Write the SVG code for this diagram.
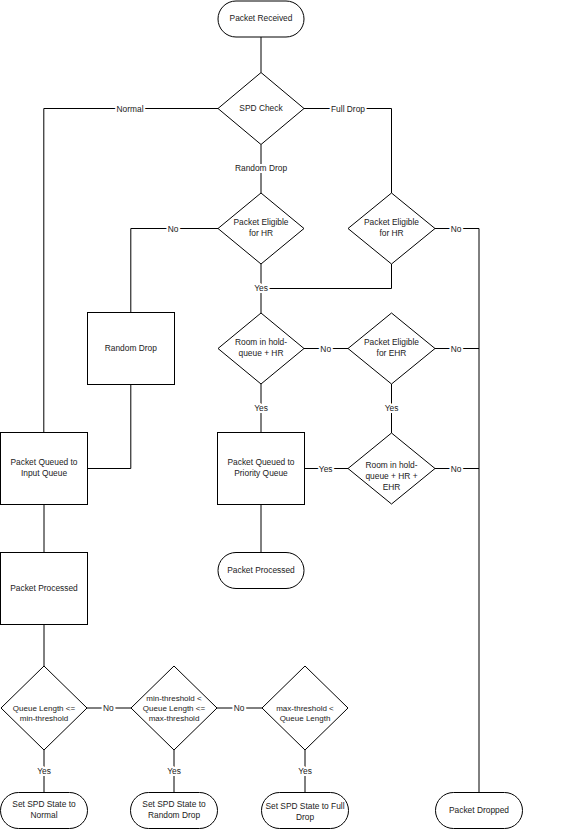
<svg xmlns="http://www.w3.org/2000/svg" width="577" height="829" viewBox="0 0 577 829">
<style>
.s{fill:#fff;stroke:#000;stroke-width:1}
.c{fill:none;stroke:#000;stroke-width:1}
text{font-family:"Liberation Sans",Arial,sans-serif;font-size:8.4px;fill:#222;text-anchor:middle}
.l{stroke:#fff;stroke-width:4;paint-order:stroke;stroke-linejoin:round}
.sm{font-size:8px}
</style>
<rect width="577" height="829" fill="#fff"/>
<g id="connectors">
<path class="c" d="M261,37V72.5"/>
<path class="c" d="M218,108.5H43.8V432.5"/>
<path class="c" d="M304,108.5H391.5V193"/>
<path class="c" d="M261,144.5V193"/>
<path class="c" d="M218,228.5H130.8V312.5"/>
<path class="c" d="M435,228.5H479V792.5"/>
<path class="c" d="M391.5,264V288.5H261"/>
<path class="c" d="M261,264V313"/>
<path class="c" d="M304,348.5H348"/>
<path class="c" d="M435,348.5H479"/>
<path class="c" d="M261,384V432.5"/>
<path class="c" d="M391.5,384V433"/>
<path class="c" d="M130.8,384.5V468.5H87.5"/>
<path class="c" d="M348,468.5H304.5"/>
<path class="c" d="M435,468.5H479"/>
<path class="c" d="M261,504.5V552.5"/>
<path class="c" d="M44,504.5V552.5"/>
<path class="c" d="M44,624.5V666"/>
<path class="c" d="M87,708H131"/>
<path class="c" d="M217,708H262"/>
<path class="c" d="M44,750V792.5"/>
<path class="c" d="M174,750V792.5"/>
<path class="c" d="M305,750V792.5"/>
<text class="l" x="130" y="111.5">Normal</text>
<text class="l" x="348" y="111.5">Full Drop</text>
<text class="l" x="261" y="170.7">Random Drop</text>
<text class="l" x="173" y="231.5">No</text>
<text class="l" x="456" y="231.5">No</text>
<text class="l" x="261" y="291.3">Yes</text>
<text class="l" x="325.7" y="351.5">No</text>
<text class="l" x="456" y="351.5">No</text>
<text class="l" x="261" y="410.7">Yes</text>
<text class="l" x="391.5" y="410.7">Yes</text>
<text class="l" x="325.7" y="471.5">Yes</text>
<text class="l" x="456" y="471.5">No</text>
<text class="l" x="108.3" y="711">No</text>
<text class="l" x="239" y="711">No</text>
<text class="l" x="44" y="774">Yes</text>
<text class="l" x="174" y="774">Yes</text>
<text class="l" x="305" y="774">Yes</text>
</g>
<g id="packet-received"><rect class="s" x="218" y="1" width="86" height="36" rx="18"/><text x="261" y="21">Packet Received</text></g>
<g id="spd-check"><polygon class="s" points="261,72.5 304,108.5 261,144.5 218,108.5"/><text x="261" y="111.3">SPD Check</text></g>
<g id="eligible-hr-1"><polygon class="s" points="261,193 304,228.5 261,264 218,228.5"/><text x="261" y="225.3">Packet Eligible</text><text x="261" y="236.3">for HR</text></g>
<g id="eligible-hr-2"><polygon class="s" points="391.5,193 435,228.5 391.5,264 348,228.5"/><text x="391.5" y="225.3">Packet Eligible</text><text x="391.5" y="236.3">for HR</text></g>
<g id="random-drop"><rect class="s" x="87.5" y="312.5" width="87" height="72"/><text x="130.8" y="351">Random Drop</text></g>
<g id="room-hr"><polygon class="s" points="261,313 304,348.5 261,384 218,348.5"/><text x="261" y="345.3">Room in hold-</text><text x="261" y="356.3">queue + HR</text></g>
<g id="eligible-ehr"><polygon class="s" points="391.5,313 435,348.5 391.5,384 348,348.5"/><text x="391.5" y="345.3">Packet Eligible</text><text x="391.5" y="356.3">for EHR</text></g>
<g id="input-queue"><rect class="s" x="0.5" y="432.5" width="87" height="72"/><text x="44" y="465.3">Packet Queued to</text><text x="44" y="476.3">Input Queue</text></g>
<g id="priority-queue"><rect class="s" x="217.5" y="432.5" width="87" height="72"/><text x="261" y="465.3">Packet Queued to</text><text x="261" y="476.3">Priority Queue</text></g>
<g id="room-hr-ehr"><polygon class="s" points="391.5,433 435,468.5 391.5,504 348,468.5"/><text x="391.5" y="467.5">Room in hold-</text><text x="391.5" y="478.5">queue + HR +</text><text x="391.5" y="489.5">EHR</text></g>
<g id="packet-processed-end"><rect class="s" x="218" y="552.5" width="86" height="36" rx="18"/><text x="261" y="572.7">Packet Processed</text></g>
<g id="packet-processed"><rect class="s" x="0.5" y="552.5" width="87" height="72"/><text x="44" y="590.7">Packet Processed</text></g>
<g id="q-min"><polygon class="s" points="44,666 87,708 44,750 1,708"/><text class="sm" x="44" y="710.7">Queue Length &lt;=</text><text class="sm" x="44" y="720.7">min-threshold</text></g>
<g id="q-mid"><polygon class="s" points="174,666 217,708 174,750 131,708"/><text class="sm" x="174" y="701">min-threshold &lt;</text><text class="sm" x="174" y="711">Queue Length &lt;=</text><text class="sm" x="174" y="721.3">max-threshold</text></g>
<g id="q-max"><polygon class="s" points="305,666 348,708 305,750 262,708"/><text class="sm" x="305" y="710.7">max-threshold &lt;</text><text class="sm" x="305" y="720.7">Queue Length</text></g>
<g id="set-normal"><rect class="s" x="0.5" y="792.5" width="87" height="36" rx="18"/><text x="44" y="807.3">Set SPD State to</text><text x="44" y="818.3">Normal</text></g>
<g id="set-random"><rect class="s" x="130.5" y="792.5" width="87" height="36" rx="18"/><text x="174" y="807.3">Set SPD State to</text><text x="174" y="818.3">Random Drop</text></g>
<g id="set-full"><rect class="s" x="261.5" y="792.5" width="87" height="36" rx="18"/><text x="305" y="809">Set SPD State to Full</text><text x="305" y="819.7">Drop</text></g>
<g id="packet-dropped"><rect class="s" x="435.5" y="792.5" width="87" height="36" rx="18"/><text x="479" y="813">Packet Dropped</text></g>
</svg>
